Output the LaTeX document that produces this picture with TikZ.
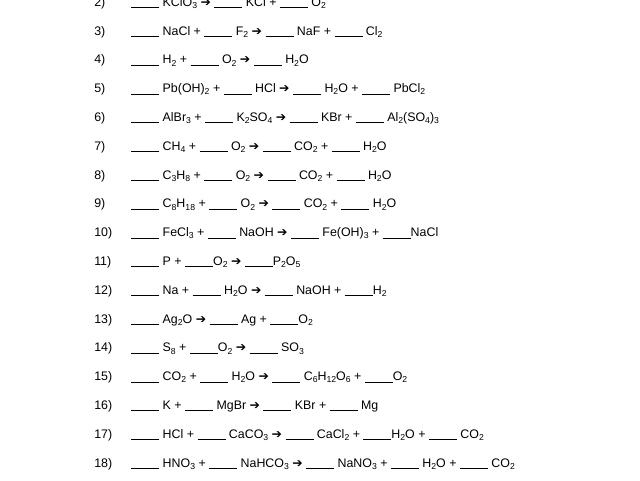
\documentclass[tikz,border=0pt]{standalone}
\usepackage{fontspec}
\setmainfont{Liberation Sans}
\newfontfamily\arrowfont{DejaVu Sans}
\newcommand{\bl}{\rule[-1.2pt]{21pt}{0.5pt}}
\newcommand{\ar}{{\arrowfont\bfseries ➔}}
\newcommand{\s}[1]{\raisebox{-0.35ex}{\fontsize{6.5}{6.5}\selectfont #1}}
\begin{document}
\begin{tikzpicture}[x=0.75pt,y=-0.75pt,
  num/.style={anchor=base west,inner sep=0pt,font=\fontsize{9.3}{10}\selectfont},
  eq/.style={anchor=base west,inner sep=0pt,font=\fontsize{9.3}{10}\selectfont}]
\useasboundingbox (0,0) rectangle (640,480);
\foreach \n/\t [count=\i from 2] in {
 2)/{\bl\ KClO\s{3} \ar\ \bl\ KCl + \bl\ O\s{2}},
 3)/{\bl\ NaCl + \bl\ F\s{2} \ar\ \bl\ NaF + \bl\ Cl\s{2}},
 4)/{\bl\ H\s{2} + \bl\ O\s{2} \ar\ \bl\ H\s{2}O},
 5)/{\bl\ Pb(OH)\s{2} + \bl\ HCl \ar\ \bl\ H\s{2}O + \bl\ PbCl\s{2}},
 6)/{\bl\ AlBr\s{3} + \bl\ K\s{2}SO\s{4} \ar\ \bl\ KBr + \bl\ Al\s{2}(SO\s{4})\s{3}},
 7)/{\bl\ CH\s{4} + \bl\ O\s{2} \ar\ \bl\ CO\s{2} + \bl\ H\s{2}O},
 8)/{\bl\ C\s{3}H\s{8} + \bl\ O\s{2} \ar\ \bl\ CO\s{2} + \bl\ H\s{2}O},
 9)/{\bl\ C\s{8}H\s{18} + \bl\ O\s{2} \ar\ \bl\ CO\s{2} + \bl\ H\s{2}O},
 10)/{\bl\ FeCl\s{3} + \bl\ NaOH \ar\ \bl\ Fe(OH)\s{3} + \bl NaCl},
 11)/{\bl\ P + \bl O\s{2} \ar\ \bl P\s{2}O\s{5}},
 12)/{\bl\ Na + \bl\ H\s{2}O \ar\ \bl\ NaOH + \bl H\s{2}},
 13)/{\bl\ Ag\s{2}O \ar\ \bl\ Ag + \bl O\s{2}},
 14)/{\bl\ S\s{8} + \bl O\s{2} \ar\ \bl\ SO\s{3}},
 15)/{\bl\ CO\s{2} + \bl\ H\s{2}O \ar\ \bl\ C\s{6}H\s{12}O\s{6} + \bl O\s{2}},
 16)/{\bl\ K + \bl\ MgBr \ar\ \bl\ KBr + \bl\ Mg},
 17)/{\bl\ HCl + \bl\ CaCO\s{3} \ar\ \bl\ CaCl\s{2} + \bl H\s{2}O + \bl\ CO\s{2}},
 18)/{\bl\ HNO\s{3} + \bl\ NaHCO\s{3} \ar\ \bl\ NaNO\s{3} + \bl\ H\s{2}O + \bl\ CO\s{2}}}
{
  \node[num] (n\i) at (94,{35+(\i-3)*28.8}) {\n};
  \node[eq] (e\i) at (131,{35+(\i-3)*28.8}) {\t};
}
\end{tikzpicture}
\end{document}
